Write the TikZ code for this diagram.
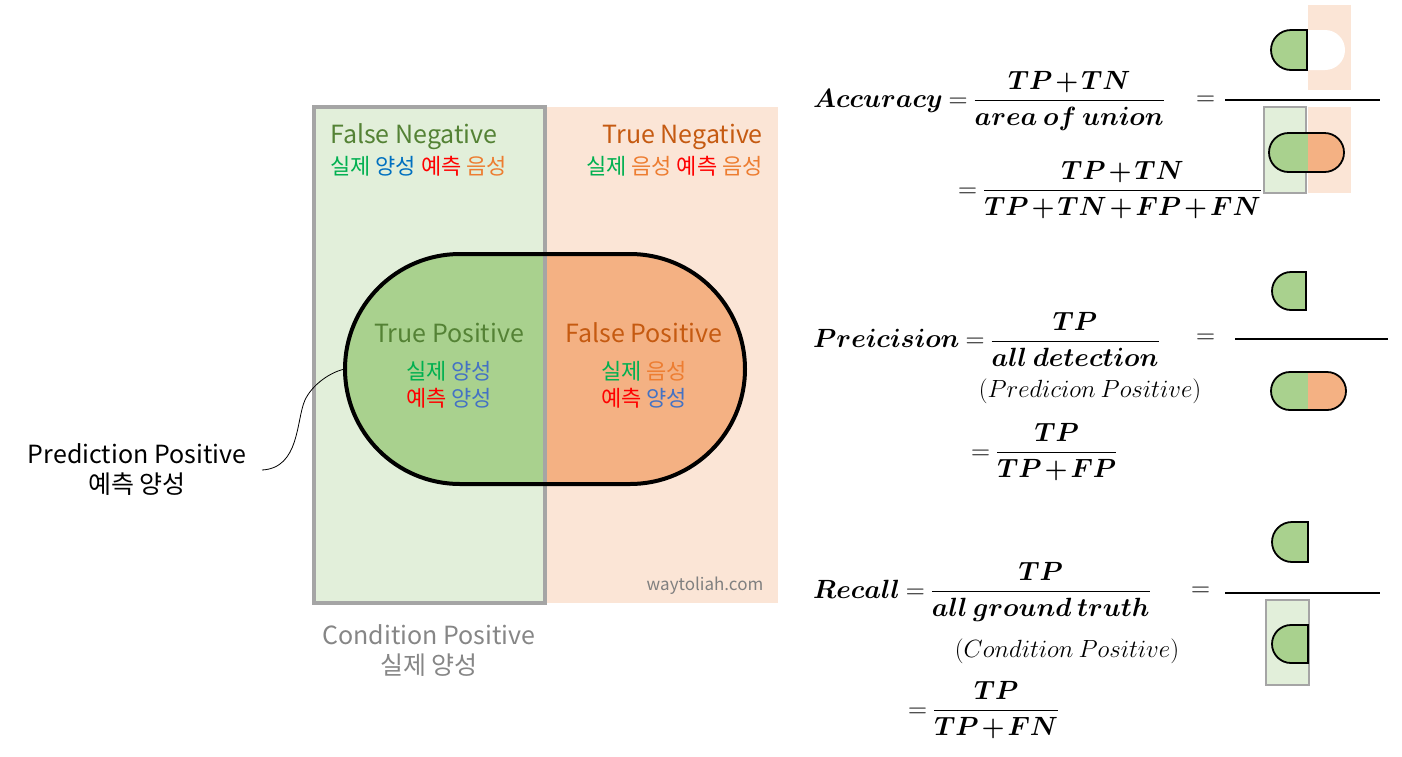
\documentclass[tikz,border=0pt]{standalone}
\usepackage{fontspec}
\usepackage{amsmath,bm}
\setmainfont{Noto Sans CJK KR}
\definecolor{lgreen}{HTML}{E2EFDA}
\definecolor{lpeach}{HTML}{FBE5D6}
\definecolor{mgreen}{HTML}{A9D18E}
\definecolor{mpeach}{HTML}{F4B183}
\definecolor{dgreen}{HTML}{548235}
\definecolor{dorange}{HTML}{C55A11}
\definecolor{kgreen}{HTML}{00B050}
\definecolor{kblue}{HTML}{0070C0}
\definecolor{kblue2}{HTML}{4472C4}
\definecolor{kred}{HTML}{FF0000}
\definecolor{korange}{HTML}{ED7D31}
\definecolor{gborder}{HTML}{A5A5A5}
\newcommand{\sil}{\textcolor{kgreen}{실제}}
\newcommand{\yes}{\textcolor{kred}{예측}}
\newcommand{\tightm}{\medmuskip=2mu\thickmuskip=4mu}
\begin{document}
\begin{tikzpicture}[x=1pt,y=1pt,
  lab/.style={font=\fontsize{25}{30}\selectfont,align=center,inner sep=0},
  kor/.style={font=\fontsize{22}{27}\selectfont,align=center,inner sep=0},
  eq/.style={font=\fontsize{24}{29}\selectfont\tightm,inner sep=0,anchor=west,scale=1.06},
  sub/.style={font=\fontsize{23}{26}\selectfont,inner sep=0},
  ibar/.style={line width=1.3pt},
  icon/.style={draw=black,line width=1.8pt}]
\useasboundingbox (0,0) rectangle (1402,-756);
% main diagram
\fill[lpeach] (545,-107) rectangle (778,-603);
\fill[lgreen] (314,-107) rectangle (545,-603);
\begin{scope}
\clip[rounded corners=115] (345,-254) rectangle (745,-484);
\fill[mgreen] (345,-254) rectangle (543,-484);
\fill[mpeach] (543,-254) rectangle (745,-484);
\end{scope}
\draw[gborder,line width=4.5pt] (314,-107) rectangle (545,-603);
\draw[line width=4pt,rounded corners=115] (345,-254) rectangle (745,-484);
\coordinate (pillL) at (345,-369);
\node[lab,text=dgreen,anchor=west] (fn) at (330,-137) {False Negative};
\node[kor,anchor=west] (fnk) at (330,-166) {\sil{} \textcolor{kblue}{양성} \yes{} \textcolor{korange}{음성}};
\node[lab,text=dorange,anchor=east] (tn) at (763,-137) {True Negative};
\node[kor,anchor=east] (tnk) at (763,-166) {\sil{} \textcolor{korange}{음성} \yes{} \textcolor{korange}{음성}};
\node[lab,text=dgreen] (tp) at (449,-333) {True Positive};
\node[kor] (tpk) at (449,-385) {\sil{} \textcolor{kblue2}{양성}\\ \yes{} \textcolor{kblue2}{양성}};
\node[lab,text=dorange] (fp) at (644,-333) {False Positive};
\node[kor] (fpk) at (644,-385) {\sil{} \textcolor{korange}{음성}\\ \yes{} \textcolor{kblue2}{양성}};
\node[font=\fontsize{17}{20}\selectfont,text=gray,inner sep=0] (wm) at (705,-586) {waytoliah.com};
\node[lab,text=gray!95,align=center] (cp) at (429,-651) {Condition Positive\\[0pt]실제 양성};
\node[lab,align=center] (pp) at (137,-470) {Prediction Positive\\[0pt]예측 양성};
\draw[line width=0.8pt] (262,-470) .. controls (300,-468) and (296,-420) .. (305,-400) .. controls (312,-385) and (330,-372) .. (pillL);
% Accuracy
\node[eq] (acc) at (813,-101) {$\bm{Accuracy} = \dfrac{\bm{TP+TN}}{\bm{area\ of\ union}}$};
\node[eq] (acce) at (1196,-101) {$=$};
\node[eq] (acc2) at (958,-190) {$=\dfrac{\bm{TP+TN}}{\bm{TP+TN+FP+FN}}$};
\fill[lpeach] (1308,-5) rectangle (1351,-90);
\fill[white] (1307,-30) -- (1325,-30) arc[start angle=90,end angle=-90,radius=20] -- (1307,-70) -- cycle;
\draw[icon,fill=mgreen] (1307,-30) -- (1291,-30) arc[start angle=90,end angle=270,radius=20] -- (1307,-70) -- cycle;
\draw[ibar] (1225,-100) -- (1380,-100);
\fill[lpeach] (1308,-107) rectangle (1351,-193);
\draw[gborder,fill=lgreen,line width=1.8pt] (1264,-107) rectangle (1306,-193);
\begin{scope}
\clip[rounded corners=19.5] (1269,-133) rectangle (1344,-172);
\fill[mgreen] (1269,-133) rectangle (1308,-172);
\fill[mpeach] (1308,-133) rectangle (1344,-172);
\end{scope}
\draw[icon,rounded corners=19.5] (1269,-133) rectangle (1344,-172);
% Precision
\node[eq] (pre) at (813,-339) {$\bm{Preicision} = \dfrac{\bm{TP}}{\bm{all\ detection}}$};
\node[sub] (pres) at (1090,-391) {$(Predicion\ Positive)$};
\node[eq] (pree) at (1196,-339) {$=$};
\node[eq] (pre2) at (971,-452) {$=\dfrac{\bm{TP}}{\bm{TP+FP}}$};
\draw[icon,fill=mgreen] (1306,-272) -- (1291,-272) arc[start angle=90,end angle=270,radius=19] -- (1306,-310) -- cycle;
\draw[ibar] (1235,-339) -- (1388,-339);
\begin{scope}
\clip[rounded corners=19] (1271,-372) rectangle (1346,-410);
\fill[mgreen] (1271,-372) rectangle (1308,-410);
\fill[mpeach] (1308,-372) rectangle (1346,-410);
\end{scope}
\draw[icon,rounded corners=19] (1271,-372) rectangle (1346,-410);
% Recall
\node[eq] (rec) at (813,-592) {$\bm{Recall} = \dfrac{\bm{TP}}{\bm{all\ ground\ truth}}$};
\node[sub] (recs) at (1067,-651) {$(Condition\ Positive)$};
\node[eq] (rece) at (1191,-592) {$=$};
\node[eq] (rec2) at (908,-710) {$=\dfrac{\bm{TP}}{\bm{TP+FN}}$};
\draw[icon,fill=mgreen] (1308,-522) -- (1292,-522) arc[start angle=90,end angle=270,radius=20] -- (1308,-562) -- cycle;
\draw[ibar] (1225,-593) -- (1380,-593);
\draw[gborder,fill=lgreen,line width=1.8pt] (1266,-600) rectangle (1309,-685);
\draw[icon,fill=mgreen] (1308,-625) -- (1291,-625) arc[start angle=90,end angle=270,radius=19] -- (1308,-663) -- cycle;
\end{tikzpicture}
\end{document}
